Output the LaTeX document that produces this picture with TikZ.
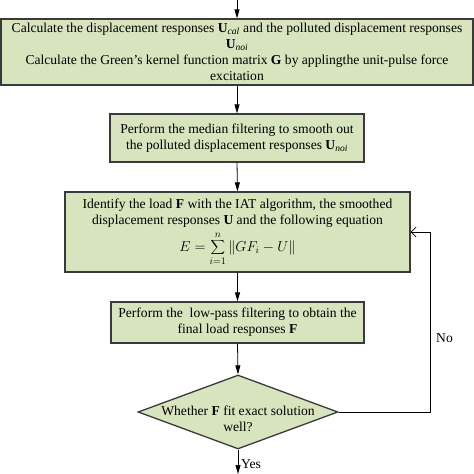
\documentclass[tikz,border=0pt]{standalone}
\usepackage{fontspec}
\setmainfont{Liberation Serif}
\usetikzlibrary{arrows.meta,shapes.geometric}
\definecolor{boxfill}{HTML}{D7E4BD}
\definecolor{boxline}{HTML}{3A3A3A}
\tikzset{
  txt/.style={font=\fontsize{13.6}{16}\selectfont},
  stepbox/.style={draw=boxline,line width=1.3pt,fill=boxfill,rectangle,inner sep=0pt,align=center,txt},
  decbox/.style={draw=boxline,line width=1.3pt,fill=boxfill,diamond,inner sep=0pt},
  dectext/.style={rectangle,inner sep=0pt,align=center,txt},
  flow/.style={draw=black,line width=0.8pt,-{Triangle[width=5pt,length=9pt]}},
  back/.style={draw=black,line width=0.7pt,-{Straight Barb[width=10pt,length=5pt]}},
  lbl/.style={txt,inner sep=0pt}
}
\begin{document}
\begin{tikzpicture}[x=1pt,y=-1pt]
\useasboundingbox (0,0) rectangle (474,474);
\coordinate (top) at (237,0);
\node[stepbox,minimum width=472pt,minimum height=66pt] (b1) at (237,52)
 {Calculate the displacement responses \textbf{U}\textsubscript{\textit{cal}} and the polluted displacement responses\\
  \textbf{U}\textsubscript{\textit{noi}}\\
  Calculate the Green's kernel function matrix \textbf{G} by applingthe unit-pulse force\\
  excitation};
\node[stepbox,minimum width=254pt,minimum height=48pt] (b2) at (237,138)
 {Perform the median filtering to smooth out\\
  the polluted displacement responses \textbf{U}\textsubscript{\textit{noi}}};
\node[stepbox,minimum width=345pt,minimum height=80pt] (b3) at (237.5,232)
 {Identify the load \textbf{F} with the IAT algorithm, the smoothed\\
  displacement responses \textbf{U} and the following equation\\[4pt]
  $\displaystyle E=\sum_{i=1}^{n}\left\|GF_i-U\right\|$};
\node[stepbox,minimum width=253pt,minimum height=41pt] (b4) at (237.5,322.5)
 {Perform the\ \ low-pass filtering to obtain the\\
  final load responses \textbf{F}};
\node[decbox,minimum width=200pt,minimum height=74pt] (d) at (238,412) {};
\node[dectext] (dt) at (238,419) {Whether \textbf{F} fit exact solution\\ well?};
\coordinate (bot) at (238,474);
\coordinate (c1) at (430,412);
\coordinate (c2) at (430,232);
\draw[flow] (top) -- (b1.north);
\draw[flow] (b1.south) -- (b2.north);
\draw[flow] (b2.south) -- (b3.north);
\draw[flow] (b3.south) -- (b4.north);
\draw[flow] (b4.south) -- (d.north);
\draw[flow] (d.south) -- (bot);
\draw[back] (d.east) -- (c1) -- (c2) -- (b3.east);
\node[lbl,anchor=west] (no) at (436,338) {No};
\node[lbl,anchor=west] (yes) at (241,464) {Yes};
\end{tikzpicture}
\end{document}
